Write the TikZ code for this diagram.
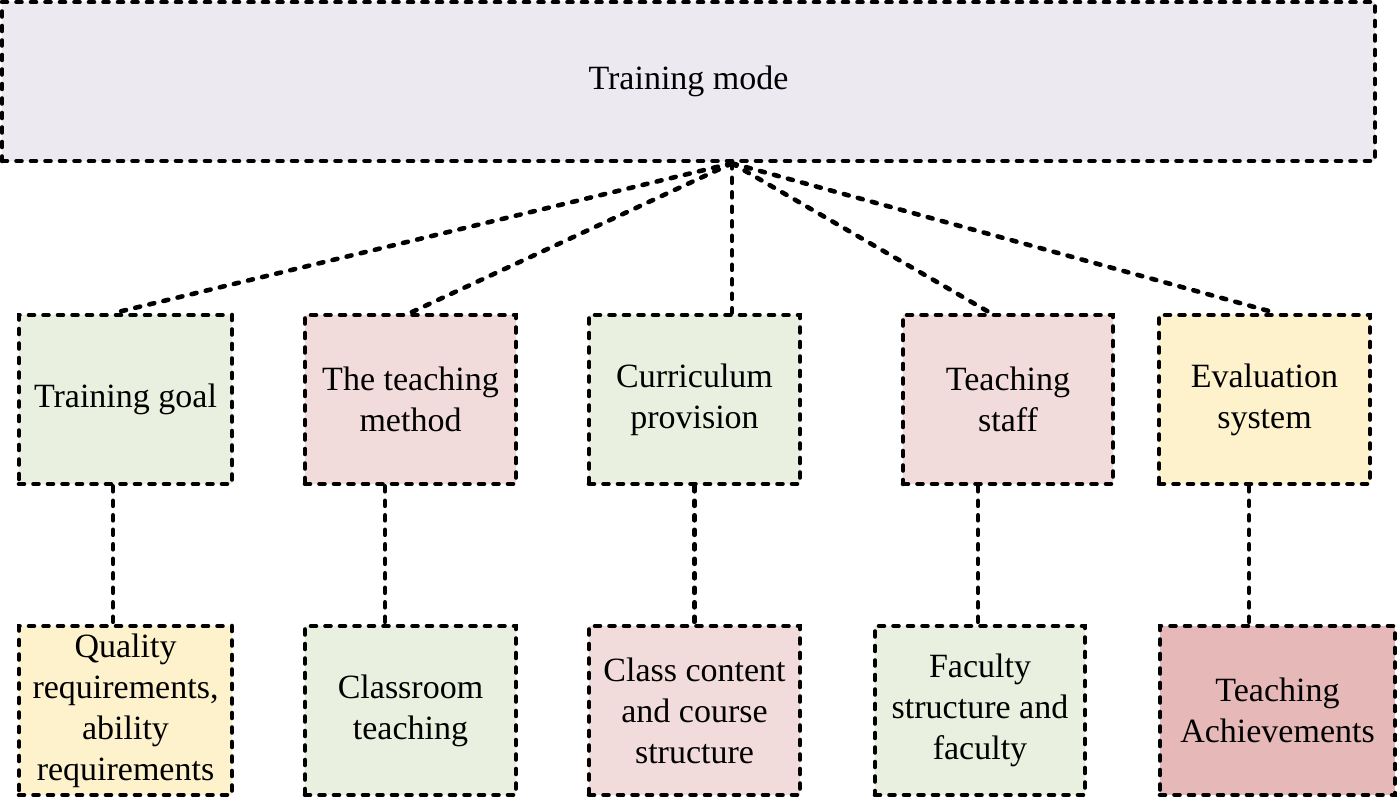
\documentclass[tikz,border=0pt]{standalone}
\usepackage{fontspec}
\setmainfont{Liberation Serif}
\definecolor{lav}{HTML}{ECE9F1}
\definecolor{grn}{HTML}{EAF0DF}
\definecolor{pnk}{HTML}{F2DCDB}
\definecolor{ylw}{HTML}{FEF2CC}
\definecolor{red}{HTML}{E6B8B7}
\tikzset{
  dl/.style={line width=4.6pt, dash pattern=on 5pt off 9.5pt, line cap=round},
  boxn/.style={dl, draw=black, rectangle, inner sep=0pt, minimum height=169pt,
    align=center, font=\fontsize{34pt}{41pt}\selectfont},
}
\begin{document}
\begin{tikzpicture}[x=1pt,y=-1pt]
\useasboundingbox (0,0) rectangle (1397,797);
\node[boxn, fill=lav, minimum width=1373pt, minimum height=159pt] (top) at (688.5,81.5) {Training mode};
% row 2
\node[boxn, fill=grn, minimum width=213pt] (g1) at (125.5,399.5) {Training goal};
\node[boxn, fill=pnk, minimum width=211pt] (g2) at (410.5,399.5) {The teaching\\method};
\node[boxn, fill=grn, minimum width=211pt] (g3) at (694.5,399.5) {Curriculum\\provision};
\node[boxn, fill=pnk, minimum width=210pt] (g4) at (1008,399.5) {Teaching\\staff};
\node[boxn, fill=ylw, minimum width=211pt] (g5) at (1264.5,399.5) {Evaluation\\system};
% row 3
\node[boxn, fill=ylw, minimum width=213pt] (b1) at (125.5,710.5) {Quality\\requirements,\\ability\\requirements};
\node[boxn, fill=grn, minimum width=211pt] (b2) at (410.5,710.5) {Classroom\\teaching};
\node[boxn, fill=pnk, minimum width=211pt] (b3) at (694.5,710.5) {Class content\\and course\\structure};
\node[boxn, fill=grn, minimum width=210pt] (b4) at (980,710.5) {Faculty\\structure and\\faculty};
\node[boxn, fill=red, minimum width=235pt] (b5) at (1277.5,710.5) {Teaching\\Achievements};
% connectors
\coordinate (hub) at ([xshift=43.5pt]top.south);
\draw[dl] (hub) -- ([xshift=-10.5pt]g1.north);
\draw[dl] (hub) -- (g2.north);
\draw[dl] (hub) -- ([xshift=37.5pt]g3.north);
\draw[dl] (hub) -- ([xshift=-18pt]g4.north);
\draw[dl] (hub) -- ([xshift=10.5pt]g5.north);
\draw[dl] ([xshift=-12.5pt]g1.south) -- ([xshift=-12.5pt]b1.north);
\draw[dl] ([xshift=-25.5pt]g2.south) -- ([xshift=-25.5pt]b2.north);
\draw[dl] (g3.south) -- (b3.north);
\draw[dl] ([xshift=-30pt]g4.south) -- ([xshift=-2pt]b4.north);
\draw[dl] ([xshift=-15.5pt]g5.south) -- ([xshift=-28.5pt]b5.north);
\end{tikzpicture}
\end{document}
